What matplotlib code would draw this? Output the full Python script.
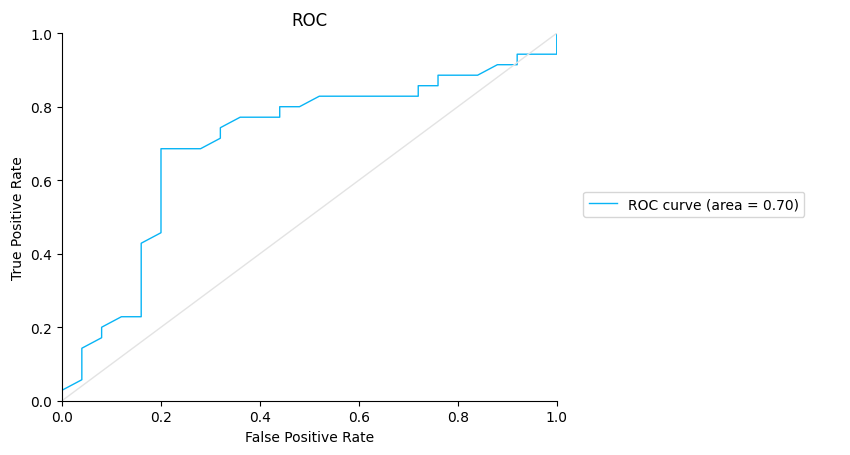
"""ROC curve for a binary classifier, with the chance diagonal."""

import matplotlib

matplotlib.use("Agg")
import matplotlib.pyplot as plt

# ROC points (25 negatives, 35 positives)
fpr = [0.0, 0.04, 0.04, 0.08, 0.08, 0.12, 0.16, 0.16, 0.20, 0.20, 0.28, 0.32,
       0.32, 0.36, 0.44, 0.44, 0.48, 0.52, 0.72, 0.72, 0.76, 0.76, 0.84, 0.88,
       0.92, 0.92, 1.0, 1.0]
tpr_counts = [1, 2, 5, 6, 7, 8, 8, 15, 16, 24, 24, 25,
              26, 27, 27, 28, 28, 29, 29, 30, 30, 31, 31, 32,
              32, 33, 33, 35]
n_pos = 35
tpr = [c / n_pos for c in tpr_counts]
roc_auc = 0.70

fig = plt.figure(figsize=(8.5, 4.56), dpi=100)
ax = fig.add_axes([0.073, 0.119, 0.582, 0.806])

ax.plot(fpr, tpr, color="#08b4f5", linewidth=1,
        label=f"ROC curve (area = {roc_auc:.2f})")
ax.plot([0, 1], [0, 1], color="#e3e3e3", linewidth=1)

ax.set_xlim(0, 1)
ax.set_ylim(0, 1)
ax.set_xlabel("False Positive Rate")
ax.set_ylabel("True Positive Rate")
ax.set_title("ROC")
ax.spines["top"].set_visible(False)
ax.spines["right"].set_visible(False)
ax.legend(loc="center left", bbox_to_anchor=(1.04, 0.535))

fig.savefig("out.png", dpi=100)
plt.close(fig)
